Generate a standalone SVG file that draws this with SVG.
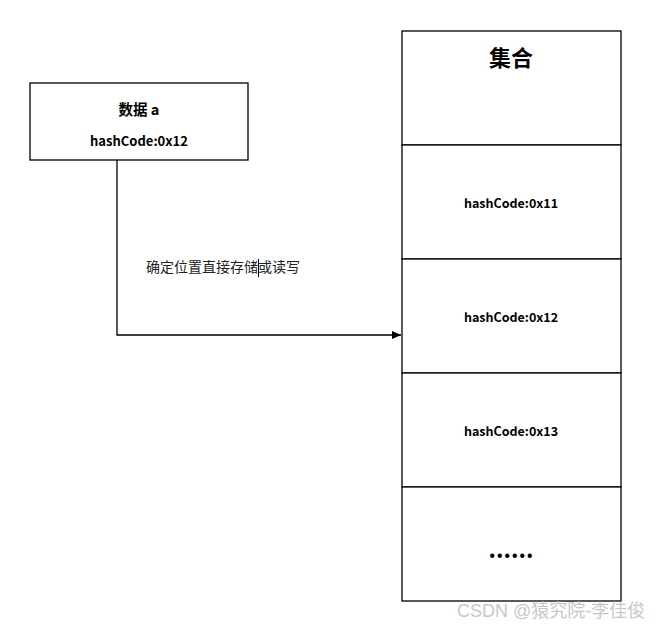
<svg xmlns="http://www.w3.org/2000/svg" width="671" height="630" viewBox="0 0 671 630">
<defs>
<style>
.box{fill:#fff;stroke:#000;stroke-width:1.3}
.b{font-family:"Noto Sans CJK SC","Noto Sans",sans-serif;font-weight:bold;fill:#000;text-anchor:middle}
.lbl{font-family:"Noto Sans CJK SC",sans-serif;font-size:14px;fill:#222}
.wm{font-family:"Liberation Sans","Noto Sans CJK SC",sans-serif;font-size:18px;fill:#c8c8c8}
</style>
<marker id="arr" markerWidth="10" markerHeight="8" refX="9" refY="4" orient="auto" markerUnits="userSpaceOnUse">
<path d="M0,0 L9,4 L0,8 Z" fill="#000"/>
</marker>
</defs>
<rect width="671" height="630" fill="#fff"/>
<g id="node-data">
<rect class="box" x="30" y="83" width="218" height="77"/>
<text class="b" x="139" y="115" font-size="14.5">数据 a</text>
<text class="b" x="139" y="146" font-size="13">hashCode:0x12</text>
</g>
<g id="node-set">
<rect class="box" x="402" y="31" width="219" height="114"/>
<text class="b" x="511" y="66" font-size="22">集合</text>
</g>
<g id="node-11">
<rect class="box" x="402" y="145" width="219" height="114"/>
<text class="b" x="511" y="208" font-size="12.5">hashCode:0x11</text>
</g>
<g id="node-12">
<rect class="box" x="402" y="259" width="219" height="114"/>
<text class="b" x="511" y="322" font-size="12.5">hashCode:0x12</text>
</g>
<g id="node-13">
<rect class="box" x="402" y="373" width="219" height="114"/>
<text class="b" x="511" y="436" font-size="12.5">hashCode:0x13</text>
</g>
<g id="node-more">
<rect class="box" x="402" y="487" width="219" height="114"/>
<text class="b" x="511" y="558" font-size="23">......</text>
</g>
<g id="connectors">
<path d="M117,160 V335 H401" fill="none" stroke="#000" stroke-width="1.3" marker-end="url(#arr)"/>
<text class="lbl" x="146" y="272">确定位置直接存储或读写</text>
<line x1="258.5" y1="259" x2="258.5" y2="277" stroke="#000" stroke-width="1"/>
</g>
<text class="wm" x="457" y="617">CSDN @猿究院-李佳俊</text>
</svg>
